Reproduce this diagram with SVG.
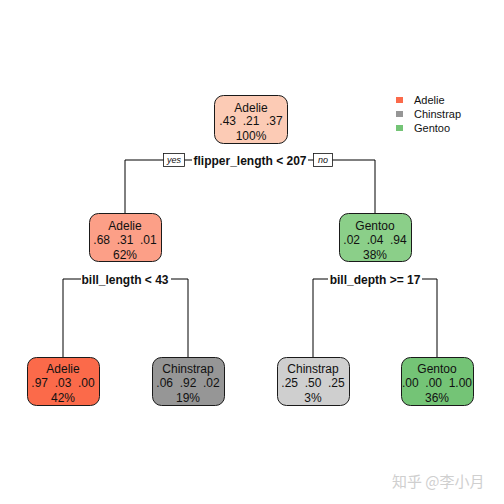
<svg xmlns="http://www.w3.org/2000/svg" width="504" height="504" viewBox="0 0 504 504">
<style>
.box{stroke:#1a1a1a;stroke-width:1}
.t{font-family:"Liberation Sans",Arial,sans-serif;font-size:12px;fill:#111;text-anchor:middle;white-space:pre}
.sp{font-family:"Liberation Sans",Arial,sans-serif;font-size:12px;font-weight:bold;fill:#111;text-anchor:middle}
.yn{font-family:"Liberation Sans",Arial,sans-serif;font-size:9px;font-style:italic;fill:#111;text-anchor:middle}
.ynb{fill:#fff;stroke:#111;stroke-width:0.8}
.lg{font-family:"Liberation Sans",Arial,sans-serif;font-size:11px;fill:#111}
.ln{stroke:#000;stroke-width:1;fill:none}
</style>
<rect width="504" height="504" fill="#fff"/>
<g id="connectors">
<path class="ln" d="M125,213 V160 H375 V213"/>
<path class="ln" d="M63,357 V279 H188 V357"/>
<path class="ln" d="M313,357 V279 H437 V357"/>
<rect x="192" y="152" width="116" height="16" fill="#fff"/>
<text class="sp" x="250" y="164.5">flipper_length &lt; 207</text>
<rect class="ynb" x="163.5" y="153.5" width="21" height="13"/>
<text class="yn" x="174" y="163">yes</text>
<rect class="ynb" x="313.5" y="153.5" width="19" height="13"/>
<text class="yn" x="323" y="163">no</text>
<rect x="81" y="271" width="90" height="16" fill="#fff"/>
<text class="sp" x="125" y="283.5">bill_length &lt; 43</text>
<rect x="328" y="271" width="94" height="16" fill="#fff"/>
<text class="sp" x="375" y="283.5">bill_depth &gt;= 17</text>
</g>
<g id="node1">
<rect class="box" x="214.5" y="95.5" width="73" height="48" rx="9" fill="#FCCBB5"/>
<text class="t" x="251" y="111.5">Adelie</text>
<text class="t" x="251" y="125">.43  .21  .37</text>
<text class="t" x="251" y="139.5">100%</text>
</g>
<g id="node2">
<rect class="box" x="89.5" y="213.5" width="72" height="48" rx="9" fill="#FC9F87"/>
<text class="t" x="125" y="229.5">Adelie</text>
<text class="t" x="125" y="244">.68  .31  .01</text>
<text class="t" x="125" y="258.5">62%</text>
</g>
<g id="node3">
<rect class="box" x="339.5" y="213.5" width="72" height="48" rx="9" fill="#8BCF89"/>
<text class="t" x="375" y="229.5">Gentoo</text>
<text class="t" x="375" y="244">.02  .04  .94</text>
<text class="t" x="375" y="258.5">38%</text>
</g>
<g id="node4">
<rect class="box" x="27.5" y="357.5" width="72" height="48" rx="9" fill="#FB6A4A"/>
<text class="t" x="63" y="372.5">Adelie</text>
<text class="t" x="63" y="387">.97  .03  .00</text>
<text class="t" x="63" y="401.5">42%</text>
</g>
<g id="node5">
<rect class="box" x="152.5" y="357.5" width="72" height="48" rx="9" fill="#969696"/>
<text class="t" x="188" y="372.5">Chinstrap</text>
<text class="t" x="188" y="387">.06  .92  .02</text>
<text class="t" x="188" y="401.5">19%</text>
</g>
<g id="node6">
<rect class="box" x="277.5" y="357.5" width="72" height="48" rx="9" fill="#CFCFCF"/>
<text class="t" x="313" y="372.5">Chinstrap</text>
<text class="t" x="313" y="387">.25  .50  .25</text>
<text class="t" x="313" y="401.5">3%</text>
</g>
<g id="node7">
<rect class="box" x="401.5" y="357.5" width="72" height="48" rx="9" fill="#74C476"/>
<text class="t" x="437" y="372.5">Gentoo</text>
<text class="t" x="437" y="387">.00  .00  1.00</text>
<text class="t" x="437" y="401.5">36%</text>
</g>
<g id="legend">
<rect x="396" y="97" width="7" height="6" fill="#FB6A4A"/>
<text class="lg" x="414" y="104">Adelie</text>
<rect x="396" y="111" width="7" height="6" fill="#969696"/>
<text class="lg" x="414" y="118">Chinstrap</text>
<rect x="396" y="125" width="7" height="6" fill="#74C476"/>
<text class="lg" x="414" y="132">Gentoo</text>
</g>
<text x="392" y="487" font-family="'Noto Sans CJK SC',sans-serif" font-size="15" fill="#cfcfcf">知乎 @李小月</text>
</svg>
